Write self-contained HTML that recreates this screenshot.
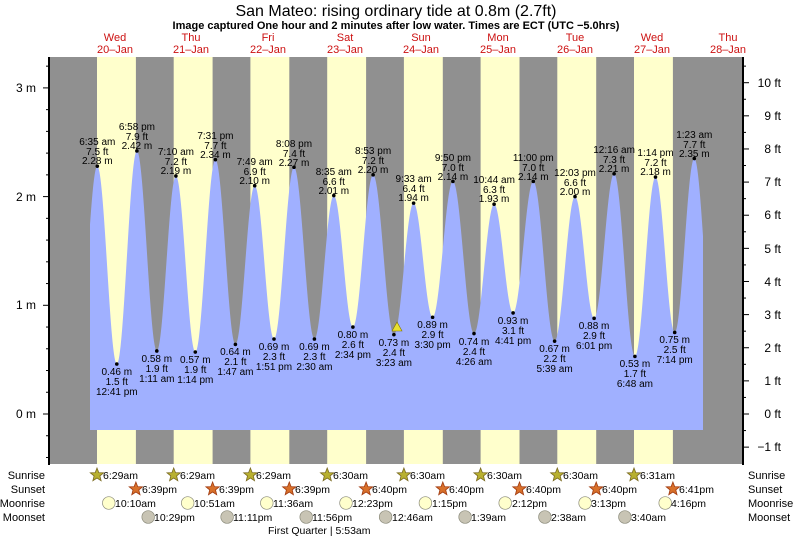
<!DOCTYPE html>
<html><head><meta charset="utf-8"><style>
html,body{margin:0;padding:0;background:#fff}
svg{display:block;font-family:"Liberation Sans",sans-serif}
.l{font-size:10px;fill:#000;text-anchor:middle}
.d{font-size:11px;fill:#cc1111;text-anchor:middle}
.a{font-size:12px;fill:#000}
.r{font-size:10.5px;fill:#000}
.b{font-size:11px;fill:#000}
</style></head><body>
<svg id="s" width="793" height="537" viewBox="0 0 793 537">
<rect x="0" y="0" width="793" height="537" fill="#fff"/>
<text x="396" y="16" font-size="16" text-anchor="middle">San Mateo: rising  ordinary tide at 0.8m (2.7ft)</text>
<text x="396" y="29" font-size="11" font-weight="bold" text-anchor="middle">Image captured One hour and 2 minutes after low water. Times are ECT (UTC −5.0hrs)</text>
<g class="d">
<text x="115" y="41">Wed</text><text x="115" y="53">20–Jan</text>
<text x="191" y="41">Thu</text><text x="191" y="53">21–Jan</text>
<text x="268" y="41">Fri</text><text x="268" y="53">22–Jan</text>
<text x="345" y="41">Sat</text><text x="345" y="53">23–Jan</text>
<text x="421" y="41">Sun</text><text x="421" y="53">24–Jan</text>
<text x="498" y="41">Mon</text><text x="498" y="53">25–Jan</text>
<text x="575" y="41">Tue</text><text x="575" y="53">26–Jan</text>
<text x="652" y="41">Wed</text><text x="652" y="53">27–Jan</text>
<text x="728" y="41">Thu</text><text x="728" y="53">28–Jan</text>
</g>
<rect x="50" y="57" width="693" height="407" fill="#909090"/>
<g fill="#ffffcc">
<rect x="97" y="57" width="38.9" height="407"/>
<rect x="173.7" y="57" width="38.9" height="407"/>
<rect x="250.4" y="57" width="38.9" height="407"/>
<rect x="327.2" y="57" width="38.9" height="407"/>
<rect x="403.9" y="57" width="38.9" height="407"/>
<rect x="480.6" y="57" width="38.9" height="407"/>
<rect x="557.3" y="57" width="38.9" height="407"/>
<rect x="634" y="57" width="38.9" height="407"/>
</g>
<path id="tide" fill="#a0b0ff" d=""/>
<polygon points="397,322 392,331 402,331" fill="#e8e030" stroke="#807000" stroke-width="0.6"/>
<g id="pts" fill="#000"></g>
<g class="l">
<text x="97.3" y="145">6:35 am</text><text x="97.3" y="155">7.5 ft</text><text x="97.3" y="164">2.28 m</text>
<text x="116.8" y="375">0.46 m</text><text x="116.8" y="385">1.5 ft</text><text x="116.8" y="395">12:41 pm</text>
<text x="136.9" y="130">6:58 pm</text><text x="136.9" y="140">7.9 ft</text><text x="136.9" y="149">2.42 m</text>
<text x="156.8" y="362">0.58 m</text><text x="156.8" y="372">1.9 ft</text><text x="156.8" y="382">1:11 am</text>
<text x="175.9" y="155">7:10 am</text><text x="175.9" y="165">7.2 ft</text><text x="175.9" y="174">2.19 m</text>
<text x="195.3" y="363">0.57 m</text><text x="195.3" y="373">1.9 ft</text><text x="195.3" y="383">1:14 pm</text>
<text x="215.4" y="139">7:31 pm</text><text x="215.4" y="149">7.7 ft</text><text x="215.4" y="158">2.34 m</text>
<text x="235.4" y="355">0.64 m</text><text x="235.4" y="365">2.1 ft</text><text x="235.4" y="375">1:47 am</text>
<text x="254.7" y="165">7:49 am</text><text x="254.7" y="175">6.9 ft</text><text x="254.7" y="184">2.10 m</text>
<text x="274" y="350">0.69 m</text><text x="274" y="360">2.3 ft</text><text x="274" y="370">1:51 pm</text>
<text x="294" y="147">8:08 pm</text><text x="294" y="157">7.4 ft</text><text x="294" y="166">2.27 m</text>
<text x="314.4" y="350">0.69 m</text><text x="314.4" y="360">2.3 ft</text><text x="314.4" y="370">2:30 am</text>
<text x="333.8" y="175">8:35 am</text><text x="333.8" y="185">6.6 ft</text><text x="333.8" y="194">2.01 m</text>
<text x="352.9" y="338">0.80 m</text><text x="352.9" y="348">2.6 ft</text><text x="352.9" y="358">2:34 pm</text>
<text x="373.1" y="154">8:53 pm</text><text x="373.1" y="164">7.2 ft</text><text x="373.1" y="173">2.20 m</text>
<text x="393.9" y="346">0.73 m</text><text x="393.9" y="356">2.4 ft</text><text x="393.9" y="366">3:23 am</text>
<text x="413.6" y="182">9:33 am</text><text x="413.6" y="192">6.4 ft</text><text x="413.6" y="201">1.94 m</text>
<text x="432.6" y="328">0.89 m</text><text x="432.6" y="338">2.9 ft</text><text x="432.6" y="348">3:30 pm</text>
<text x="452.9" y="161">9:50 pm</text><text x="452.9" y="171">7.0 ft</text><text x="452.9" y="180">2.14 m</text>
<text x="474" y="345">0.74 m</text><text x="474" y="355">2.4 ft</text><text x="474" y="365">4:26 am</text>
<text x="494.1" y="183">10:44 am</text><text x="494.1" y="193">6.3 ft</text><text x="494.1" y="202">1.93 m</text>
<text x="513.1" y="324">0.93 m</text><text x="513.1" y="334">3.1 ft</text><text x="513.1" y="344">4:41 pm</text>
<text x="533.3" y="161">11:00 pm</text><text x="533.3" y="171">7.0 ft</text><text x="533.3" y="180">2.14 m</text>
<text x="554.6" y="352">0.67 m</text><text x="554.6" y="362">2.2 ft</text><text x="554.6" y="372">5:39 am</text>
<text x="575" y="176">12:03 pm</text><text x="575" y="186">6.6 ft</text><text x="575" y="195">2.00 m</text>
<text x="594.1" y="329">0.88 m</text><text x="594.1" y="339">2.9 ft</text><text x="594.1" y="349">6:01 pm</text>
<text x="614.1" y="153">12:16 am</text><text x="614.1" y="163">7.3 ft</text><text x="614.1" y="172">2.21 m</text>
<text x="634.9" y="367">0.53 m</text><text x="634.9" y="377">1.7 ft</text><text x="634.9" y="387">6:48 am</text>
<text x="655.5" y="156">1:14 pm</text><text x="655.5" y="166">7.2 ft</text><text x="655.5" y="175">2.18 m</text>
<text x="674.7" y="343">0.75 m</text><text x="674.7" y="353">2.5 ft</text><text x="674.7" y="363">7:14 pm</text>
<text x="694.3" y="138">1:23 am</text><text x="694.3" y="148">7.7 ft</text><text x="694.3" y="157">2.35 m</text>
</g>
<line x1="49" y1="57" x2="49" y2="465" stroke="#000" stroke-width="2"/>
<line x1="743" y1="57" x2="743" y2="465" stroke="#000" stroke-width="2"/>
<g id="ticks" stroke="#000" stroke-width="1"></g>
<g class="a" text-anchor="end">
<text x="36" y="92">3 m</text><text x="36" y="201">2 m</text><text x="36" y="309">1 m</text><text x="36" y="418">0 m</text>
</g>
<g class="a" text-anchor="end">
<text x="781" y="87">10 ft</text><text x="781" y="120">9 ft</text><text x="781" y="153">8 ft</text><text x="781" y="186">7 ft</text><text x="781" y="219">6 ft</text><text x="781" y="253">5 ft</text><text x="781" y="286">4 ft</text><text x="781" y="319">3 ft</text><text x="781" y="352">2 ft</text><text x="781" y="385">1 ft</text><text x="781" y="418">0 ft</text><text x="781" y="451">−1 ft</text>
</g>
<g class="b" text-anchor="end">
<text x="45" y="479">Sunrise</text><text x="45" y="493">Sunset</text><text x="45" y="507">Moonrise</text><text x="45" y="521">Moonset</text>
</g>
<g class="b">
<text x="748" y="479">Sunrise</text><text x="748" y="493">Sunset</text><text x="748" y="507">Moonrise</text><text x="748" y="521">Moonset</text>
</g>
<g id="icons"></g>
<g class="r">
<text x="103" y="479">6:29am</text><text x="180" y="479">6:29am</text><text x="256" y="479">6:29am</text><text x="333" y="479">6:30am</text><text x="410" y="479">6:30am</text><text x="487" y="479">6:30am</text><text x="563" y="479">6:30am</text><text x="640" y="479">6:31am</text>
<text x="142" y="493">6:39pm</text><text x="219" y="493">6:39pm</text><text x="295" y="493">6:39pm</text><text x="372" y="493">6:40pm</text><text x="449" y="493">6:40pm</text><text x="526" y="493">6:40pm</text><text x="602" y="493">6:40pm</text><text x="679" y="493">6:41pm</text>
<text x="115" y="507">10:10am</text><text x="194" y="507">10:51am</text><text x="273" y="507">11:36am</text><text x="352" y="507">12:23pm</text><text x="432" y="507">1:15pm</text><text x="512" y="507">2:12pm</text><text x="591" y="507">3:13pm</text><text x="671" y="507">4:16pm</text>
<text x="154" y="521">10:29pm</text><text x="233" y="521">11:11pm</text><text x="312" y="521">11:56pm</text><text x="392" y="521">12:46am</text><text x="471" y="521">1:39am</text><text x="551" y="521">2:38am</text><text x="631" y="521">3:40am</text>
<text x="268" y="534">First Quarter | 5:53am</text>
</g>
</svg>
<script>
var NS="http://www.w3.org/2000/svg";
function Y(m){return 414-108.7*m;}
var P=[[76.3+0.5*3.196,0.55],[97.3,2.28],[116.8,.46],[136.9,2.42],[156.8,.58],[175.9,2.19],[195.3,.57],[215.4,2.34],[235.4,.64],[254.7,2.10],[274,.69],[294,2.27],[314.4,.69],[333.8,2.01],[352.9,.80],[373.1,2.20],[393.9,.73],[413.6,1.94],[432.6,.89],[452.9,2.14],[474,.74],[494.1,1.93],[513.1,.93],[533.3,2.14],[554.6,.67],[575,2.00],[594.1,.88],[614.1,2.21],[634.9,.53],[655.5,2.18],[674.7,.75],[694.3,2.35],[714,0.6]];
var d="M90,430";
for(var x=90;x<=703;x+=0.5){
 for(var i=0;i<P.length-1;i++){if(x>=P[i][0]&&x<=P[i+1][0])break;}
 var a=P[i],b=P[i+1],f=(x-a[0])/(b[0]-a[0]);
 var m=a[1]+(b[1]-a[1])*(1-Math.cos(Math.PI*f))/2;
 d+=" L"+x.toFixed(1)+","+Y(m).toFixed(1);
}
d+=" L703,430 Z";
document.getElementById("tide").setAttribute("d",d);
var g=document.getElementById("pts");
for(var i=1;i<P.length-1;i++){var c=document.createElementNS(NS,"circle");c.setAttribute("cx",P[i][0]);c.setAttribute("cy",Y(P[i][1]));c.setAttribute("r",1.8);g.appendChild(c);}
var t=document.getElementById("ticks");
function ln(x1,y1,x2,y2){var l=document.createElementNS(NS,"line");l.setAttribute("x1",x1);l.setAttribute("y1",y1);l.setAttribute("x2",x2);l.setAttribute("y2",y2);t.appendChild(l);}
for(var k=-2;k<=16;k++){var y=414-k*0.2*108.7;if(y<58||y>464)continue;ln(k%5==0?43:46,y,49,y);}
for(var k=-2;k<=21;k++){var y=414-k*0.5*33.13;if(y<58||y>464)continue;ln(743,y,k%2==0?749:746,y);}
var ic=document.getElementById("icons");
function star(cx,cy,fill,stroke){var s="";for(var j=0;j<10;j++){var r=j%2?3:7,an=-Math.PI/2+j*Math.PI/5;s+=(cx+r*Math.cos(an)).toFixed(1)+","+(cy+r*Math.sin(an)).toFixed(1)+" ";}
var p=document.createElementNS(NS,"polygon");p.setAttribute("points",s);p.setAttribute("fill",fill);p.setAttribute("stroke",stroke);p.setAttribute("stroke-width","0.8");ic.appendChild(p);}
function circ(cx,cy,fill){var c=document.createElementNS(NS,"circle");c.setAttribute("cx",cx);c.setAttribute("cy",cy);c.setAttribute("r",6.3);c.setAttribute("fill",fill);c.setAttribute("stroke","#8a8a7a");c.setAttribute("stroke-width","0.7");ic.appendChild(c);}
[97,173.7,250.4,327.2,403.9,480.6,557.3,634].forEach(function(x){star(x,475,"#b8b030","#7a6a20");});
[135.9,212.6,289.3,366.1,442.8,519.5,596.2,672.9].forEach(function(x){star(x,489,"#d8702a","#a03a10");});
[108.8,187.7,266.8,346,425.4,505.2,585.1,665.2].forEach(function(x){circ(x,503,"#ffffcc");});
[148.2,227.1,306.2,385.6,465.1,544.9,624.9].forEach(function(x){circ(x,517,"#c8c4b4");});
</script>
</body></html>
